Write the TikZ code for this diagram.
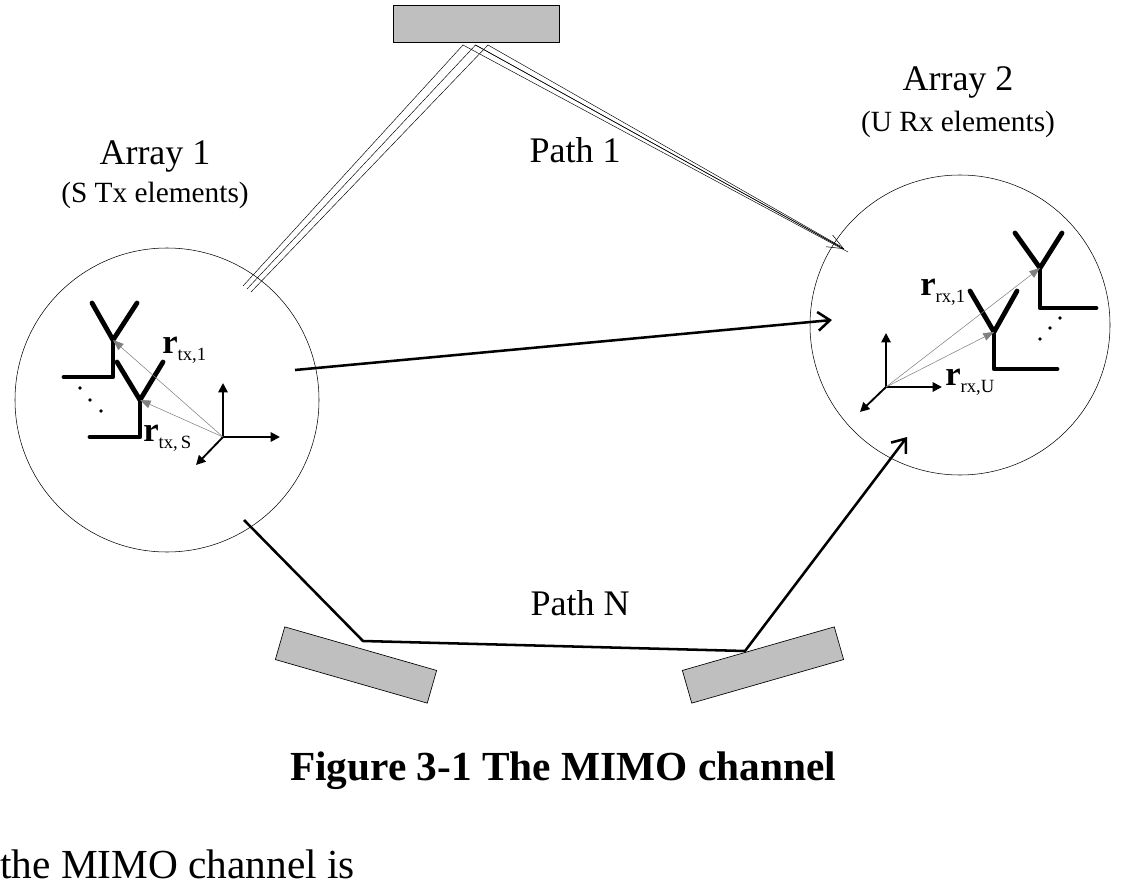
\documentclass[tikz,border=0pt]{standalone}
\usepackage{fontspec}
\setmainfont{Liberation Serif}
\usetikzlibrary{arrows.meta}
\begin{document}
\begin{tikzpicture}[x=0.75pt,y=-0.75pt,
  ant/.style={line width=3.6pt,line cap=round,line join=round},
  ax/.style={line width=1.4pt,-{Triangle[length=7pt,width=7pt]}},
  vec/.style={draw=gray,line width=0.4pt,-{Triangle[length=8pt,width=6pt]}},
  path/.style={line width=1.9pt},
  refl/.style={draw=black,fill=gray!50,line width=0.5pt},
  lab/.style={font=\fontsize{27}{29}\selectfont},
  sub/.style={font=\fontsize{22}{24}\selectfont}]
\useasboundingbox (0,0) rectangle (1131,888);
% circles
\node[draw,circle,minimum size=304pt*0.75,inner sep=0] (c1) at (167,400) {};
\node[draw,circle,minimum size=300pt*0.75,inner sep=0] (c2) at (960,325) {};
% reflectors
\node[refl,minimum width=166*0.75pt,minimum height=37*0.75pt] (t) at (476,23.5) {};
\node[refl,rotate=-16,minimum width=158*0.75pt,minimum height=34*0.75pt] (bl) at (356,665) {};
\node[refl,rotate=16,minimum width=158*0.75pt,minimum height=34*0.75pt] (br) at (763,665) {};
% path 1 rays
\foreach \i in {0,1,2}{
  \coordinate (s\i) at (243+4*\i,286+3*\i);
  \coordinate (a\i) at (463+12.5*\i,45);
  \coordinate (e\i) at (848-4*\i,252-3*\i);
  \draw[line width=0.35pt] (s\i) -- (a\i) -- (e\i);
}
\draw[line width=0.4pt,-{Straight Barb[open,length=12pt,width=10pt]}] (a1) -- (e1);
% direct path
\coordinate (d0) at (295,370); \coordinate (d1) at (832,320);
\draw[path,-{Straight Barb[length=9pt,width=14pt]}] (d0) -- (d1);
% path N
\coordinate (n0) at (244,520); \coordinate (n1) at (363,641);
\coordinate (n2) at (745,651); \coordinate (n3) at (907,437);
\draw[path,line join=round,-{Straight Barb[length=9pt,width=14pt]}] (n0) -- (n1) -- (n2) -- (n3);
% labels
\node[lab] (p1) at (575,150) {Path 1};
\node[lab] (pn) at (580,603) {Path N};
\node[lab] (a1l) at (155,157) {Array 1};
\node[sub] (a1s) at (155,195) {(S Tx elements)};
\node[lab] (a2l) at (958,82) {Array 2};
\node[sub] (a2s) at (958,124) {(U Rx elements)};
% left antennas
\coordinate (L1) at (113,340); \coordinate (L2) at (140,400);
\draw[ant] (92,303) -- (L1) -- (137,303);
\draw[ant] (L1) -- (113,377) -- (64,377);
\draw[ant] (117,362) -- (L2) -- (163,362);
\draw[ant] (L2) -- (140,437) -- (90,437);
\foreach \p in {(80,388),(90,400),(101,411)} \fill \p circle (1.8);
\coordinate (O1) at (223,437);
\draw[ax] (O1) -- (223,383);
\draw[ax] (O1) -- (280,437);
\draw[ax] (O1) -- (196,465);
\draw[vec] (O1) -- (L1);
\draw[vec] (O1) -- (L2);
\node[anchor=west,inner sep=0] (rt1) at (162,350) {\fontsize{26}{28}\selectfont\textbf{r}\raisebox{-5pt}{\fontsize{14}{16}\selectfont tx,1}};
\node[anchor=west,inner sep=0] (rts) at (143,438) {\fontsize{26}{28}\selectfont\textbf{r}\raisebox{-5pt}{\fontsize{14}{16}\selectfont tx,\,S}};
% right antennas
\coordinate (R1) at (1040,268); \coordinate (R2) at (994,332);
\draw[ant] (1015,233) -- (R1) -- (1062,233);
\draw[ant] (R1) -- (1040,308) -- (1096,308);
\draw[ant] (970,291) -- (R2) -- (1017,291);
\draw[ant] (R2) -- (994,369) -- (1057,369);
\foreach \p in {(1040,339),(1050,328),(1060,318)} \fill \p circle (1.8);
\coordinate (O2) at (886,387);
\draw[ax] (O2) -- (886,333);
\draw[ax] (O2) -- (942,387);
\draw[ax] (O2) -- (860,412);
\draw[vec] (O2) -- (R1);
\draw[vec] (O2) -- (R2);
\node[anchor=west,inner sep=0] (rr1) at (920,292) {\fontsize{26}{28}\selectfont\textbf{r}\raisebox{-5pt}{\fontsize{14}{16}\selectfont rx,1}};
\node[anchor=west,inner sep=0] (rru) at (945,382) {\fontsize{26}{28}\selectfont\textbf{r}\raisebox{-5pt}{\fontsize{14}{16}\selectfont rx,U}};
% caption
\node[font=\fontsize{31}{34}\selectfont\bfseries] (cap) at (563,771) {Figure 3-1 The MIMO channel};
\node[anchor=west,inner sep=0,font=\fontsize{31}{34}\selectfont] (txt) at (0,864) {the MIMO channel is};
\end{tikzpicture}
\end{document}
